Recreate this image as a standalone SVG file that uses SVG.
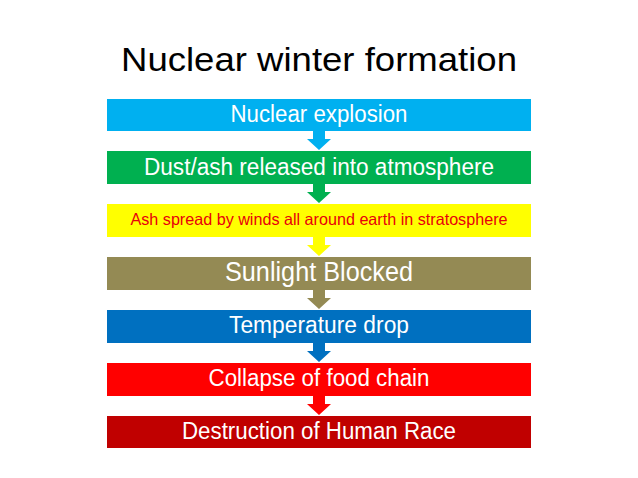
<svg xmlns="http://www.w3.org/2000/svg" width="638" height="478" viewBox="0 0 638 478">
<style>
text{font-family:"Liberation Sans",Arial,sans-serif;text-anchor:middle}
.t{font-size:23px;fill:#fff}
.title{font-size:33px;fill:#000}
</style>
<rect width="638" height="478" fill="#fff"/>
<text class="title" x="319" y="71" textLength="396" lengthAdjust="spacingAndGlyphs">Nuclear winter formation</text>
<g id="connectors">
<path d="M313 131V139H307L319 150L331 139H325V131Z" fill="#00B0F0"/>
<path d="M313 184V192H307L319 203L331 192H325V184Z" fill="#00B050"/>
<path d="M313 237V245H307L319 256L331 245H325V237Z" fill="#FFFF00"/>
<path d="M313 290V298H307L319 309L331 298H325V290Z" fill="#948A54"/>
<path d="M313 343V351H307L319 362L331 351H325V343Z" fill="#0070C0"/>
<path d="M313 396V404H307L319 415L331 404H325V396Z" fill="#FF0000"/>
</g>
<g id="n1"><rect x="107" y="99" width="424" height="32" fill="#00B0F0"/><text class="t" x="319" y="122" textLength="177" lengthAdjust="spacingAndGlyphs">Nuclear explosion</text></g>
<g id="n2"><rect x="107" y="151" width="424" height="33" fill="#00B050"/><text class="t" x="319" y="174.5" textLength="350" lengthAdjust="spacingAndGlyphs">Dust/ash released into atmosphere</text></g>
<g id="n3"><rect x="107" y="204" width="424" height="33" fill="#FFFF00"/><text x="319" y="225" style="font-size:16.5px;fill:#E8000B" textLength="377" lengthAdjust="spacingAndGlyphs">Ash spread by winds all around earth in stratosphere</text></g>
<g id="n4"><rect x="107" y="257" width="424" height="33" fill="#948A54"/><text x="319" y="281" style="font-size:27px;fill:#fff" textLength="188" lengthAdjust="spacingAndGlyphs">Sunlight Blocked</text></g>
<g id="n5"><rect x="107" y="310" width="424" height="33" fill="#0070C0"/><text class="t" x="319" y="333" textLength="180" lengthAdjust="spacingAndGlyphs">Temperature drop</text></g>
<g id="n6"><rect x="107" y="363" width="424" height="33" fill="#FF0000"/><text class="t" x="319" y="386" textLength="221" lengthAdjust="spacingAndGlyphs">Collapse of food chain</text></g>
<g id="n7"><rect x="107" y="416" width="424" height="32" fill="#C00000"/><text class="t" x="319" y="439" textLength="274" lengthAdjust="spacingAndGlyphs">Destruction of Human Race</text></g>
</svg>
